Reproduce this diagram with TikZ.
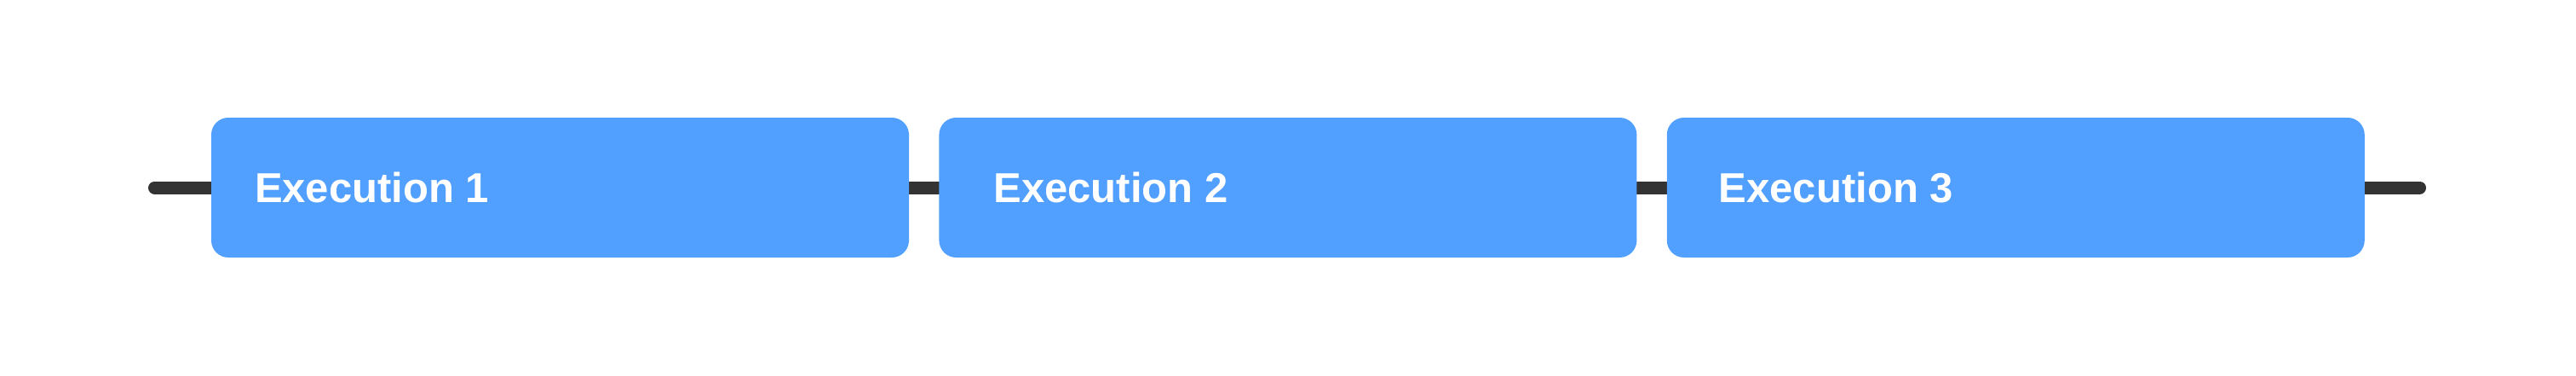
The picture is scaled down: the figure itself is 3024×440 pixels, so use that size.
\documentclass[tikz,border=0pt]{standalone}
\usepackage{fontspec}
\setmainfont{Liberation Sans}
\usetikzlibrary{positioning}
\definecolor{execblue}{HTML}{519FFE}
\definecolor{linegray}{HTML}{333333}
\pgfdeclarelayer{background}
\pgfsetlayers{background,main}

\begin{document}
\begin{tikzpicture}[x=1pt,y=1pt,node distance=35pt,
  exec box/.style={rectangle,rounded corners=20pt,fill=execblue,inner sep=0pt,
    minimum width=819pt,minimum height=164pt},
  exec text/.style={inner sep=0pt,text=white,font=\fontsize{49}{57}\selectfont\bfseries},
  time line/.style={draw=linegray,line width=15pt,line cap=round}]
  \useasboundingbox (0,0) rectangle (3024,440);

  \node[exec box] (e1) at (657.5,220) {};
  \node[exec box] (e2) [right=of e1] {};
  \node[exec box] (e3) [right=of e2] {};

  \node[exec text,anchor=west] (t1) at ([xshift=51pt]e1.west) {Execution 1};
  \node[exec text,anchor=west] (t2) at ([xshift=64pt]e2.west) {Execution 2};
  \node[exec text,anchor=west] (t3) at ([xshift=61pt]e3.west) {Execution 3};

  \coordinate (start) at (181.5,220);
  \coordinate (stop) at (2840.5,220);

  % line behind the boxes
  \begin{pgfonlayer}{background}
  \draw[time line] (start) -- (e1);
  \draw[time line] (e1) -- (e2);
  \draw[time line] (e2) -- (e3);
  \draw[time line] (e3) -- (stop);
  \end{pgfonlayer}
\end{tikzpicture}
\end{document}
